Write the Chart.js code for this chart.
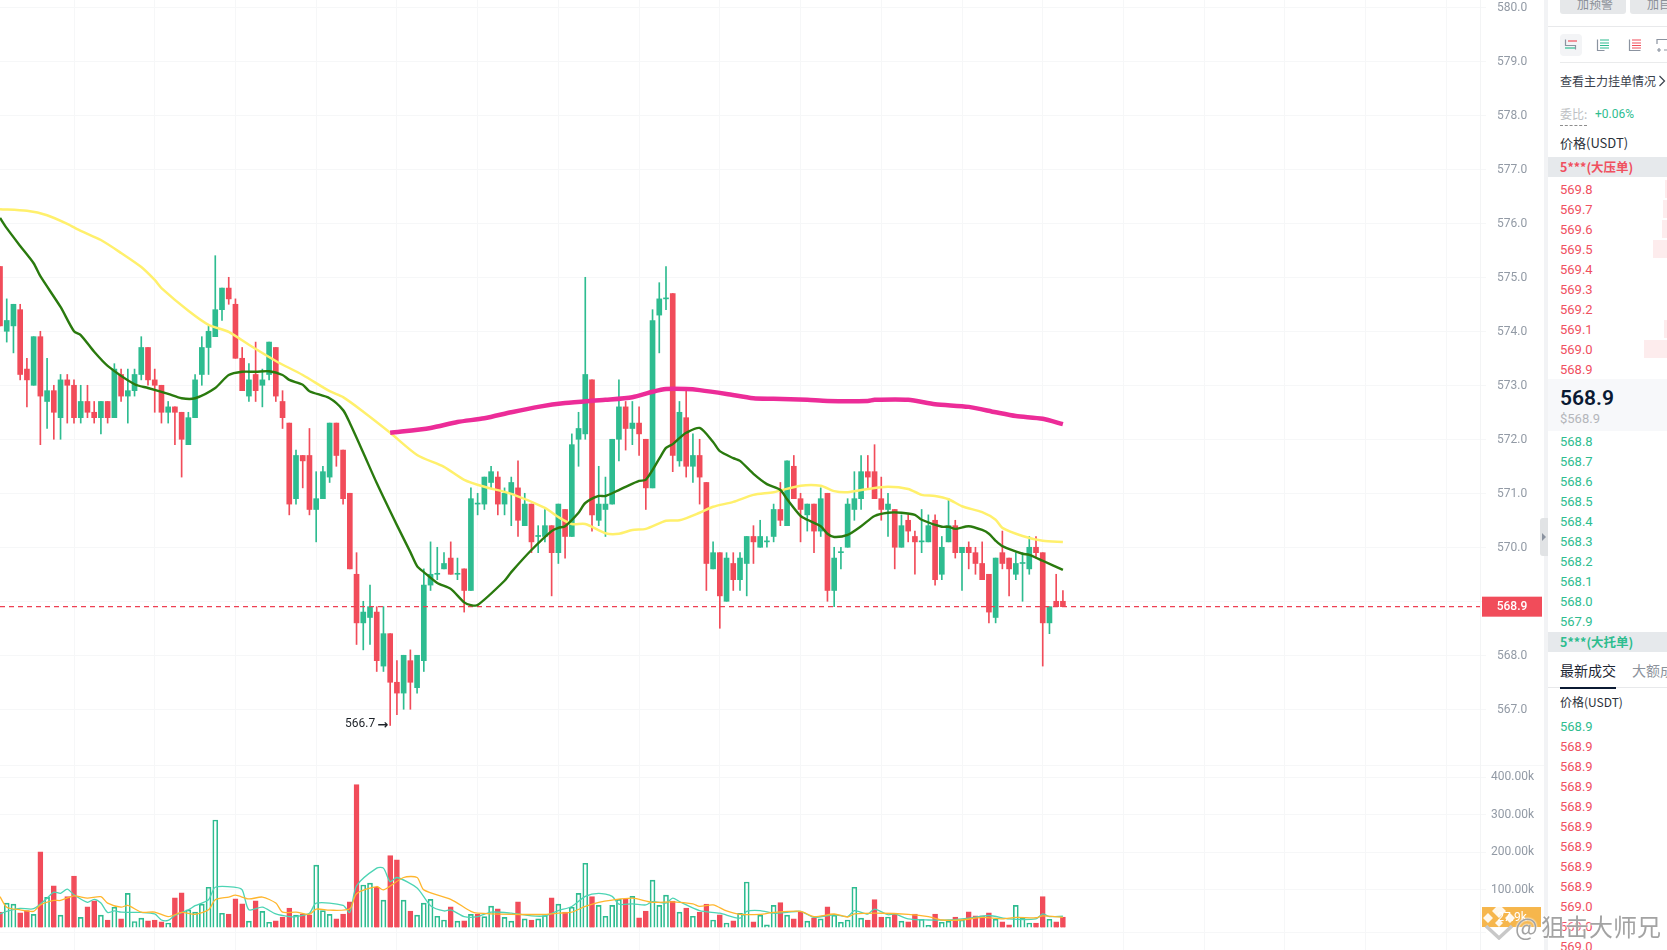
<!DOCTYPE html>
<html lang="zh">
<head>
<meta charset="utf-8">
<title>K线</title>
<script src="https://cdn.jsdelivr.net/npm/chart.js@4/dist/chart.umd.min.js"></script>
<style>
html,body{margin:0;padding:0;background:#fff;overflow:hidden;width:1667px;height:950px;font-family:Roboto,"Noto Sans CJK SC",sans-serif}
#priceBox{position:absolute;left:0;top:0;width:1544px;height:765px}
#volBox{position:absolute;left:0;top:765px;width:1544px;height:185px;box-shadow:inset 0 1px 0 #f6f7f8}
#strip{position:absolute;left:1544px;top:0;width:4px;height:950px;background:#f2f3f5}
#side{position:absolute;left:1548px;top:0;width:119px;height:950px;overflow:hidden;background:#fff}
#side div{position:absolute;white-space:nowrap;line-height:1}
.t{left:12px;font-size:13px;transform:translateY(-50%)}
#handle{position:absolute;left:1540px;top:518px;width:8px;height:38px;background:#e1e3e5;border-radius:3px 0 0 3px}
#handle i{position:absolute;left:2px;top:15px;border-left:4px solid #8b93a0;border-top:4px solid transparent;border-bottom:4px solid transparent}
#mark{position:absolute;left:1483px;top:902px;width:184px;height:48px;pointer-events:none}
#mark span{position:absolute;top:10px;color:#a3a3a3;font-family:"Noto Sans CJK SC";font-size:24px;line-height:28px;text-shadow:0 0 2px #fff,0 0 2px #fff}
</style>
</head>
<body>
<div id="priceBox"><canvas id="priceChart" width="1544" height="765"></canvas></div>
<div id="volBox"><canvas id="volChart" width="1544" height="185"></canvas></div>
<div id="strip"></div>
<div id="side"></div>
<div id="handle"><i></i></div>
<div id="mark">
  <svg width="32" height="38" style="position:absolute;left:0;top:0" viewBox="0 0 32 38">
    <path d="M16 2 L23 9 L16 16 L9 9 Z M5 11 L10 16 L5 21 L0 16 Z M27 11 L32 16 L27 21 L22 16 Z M16 17 L20 21 L16 25 L12 21 Z" fill="#fff" opacity=".9"/>
    <path d="M3 24 L16 36 L29 24" fill="none" stroke="#c8c8c8" stroke-width="3.500"/>
  </svg>
  <span style="left:32px">@</span>
  <span style="left:58px">狙击大师兄</span>
</div>
<script>
// --- K线数据 ---
const opens  = [575.2,574.0,574.1,574.4,573.3,573.0,573.9,572.7,572.9,572.4,573.1,573.0,572.4,572.7,572.5,572.4,572.7,572.4,573.2,572.8,572.9,573.2,573.7,573.1,573.0,572.5,572.6,572.5,571.9,572.4,573.2,573.7,573.9,574.4,574.8,574.5,573.5,572.8,573.2,573.0,573.2,573.7,572.7,572.3,570.9,571.7,571.7,570.7,570.9,571.3,572.3,571.8,571.0,569.5,568.6,568.7,568.8,567.8,568.4,567.5,567.3,567.9,567.4,567.9,569.3,569.5,569.6,569.8,569.5,569.6,569.2,570.8,570.8,571.2,571.3,570.8,571.0,571.1,570.4,570.8,570.2,570.2,570.4,569.9,570.7,570.2,572.0,572.1,573.1,570.5,570.7,570.8,572.0,572.6,572.2,572.3,572.0,571.1,574.3,574.6,574.7,571.6,572.4,571.5,571.7,571.2,569.6,569.9,569.0,569.7,569.4,569.7,570.2,570.0,570.1,570.2,570.7,570.4,571.5,570.9,570.6,570.8,570.3,571.0,569.2,569.9,570.0,570.7,570.9,571.4,571.4,570.9,570.7,570.7,570.0,570.5,570.2,570.1,570.1,570.5,569.5,570.1,570.4,569.9,570.0,569.9,569.7,569.5,568.7,569.9,569.8,569.5,569.7,569.6,570.0,569.9,568.6,569.0,569.0];
const closes = [574.1,574.2,574.5,573.2,573.1,573.9,572.8,572.9,572.5,573.1,573.0,572.4,572.7,572.5,572.4,572.7,572.4,573.3,572.8,572.9,573.2,573.7,573.1,573.0,572.5,572.6,572.5,572.0,572.4,573.1,573.7,574.0,574.4,574.8,574.6,573.5,572.9,573.1,572.9,573.1,573.8,572.8,572.4,570.8,571.7,571.6,570.7,570.9,571.4,572.3,571.7,570.9,569.6,568.6,568.8,568.9,567.9,568.4,567.5,567.3,568.0,567.5,568.0,569.3,569.5,569.5,569.7,569.5,569.5,569.2,570.9,570.8,571.3,571.4,570.8,571.0,571.2,570.5,570.8,570.1,570.2,570.4,569.9,570.8,570.2,571.9,572.2,573.2,570.6,570.8,570.8,572.0,572.6,572.2,572.3,572.1,571.1,574.2,574.6,574.6,571.7,572.5,571.5,571.7,571.3,569.7,569.9,569.1,569.8,569.4,569.8,570.2,570.1,570.2,570.1,570.7,570.5,571.6,570.9,570.7,570.8,570.3,570.9,569.2,569.8,569.9,570.8,570.9,571.4,571.3,570.9,570.7,570.8,570.0,570.4,570.3,570.1,570.1,570.4,569.4,570.0,570.4,569.9,570.0,569.9,569.7,569.4,568.8,569.8,569.7,569.6,569.7,569.7,570.0,569.9,568.6,568.9,568.9,568.9];
const highs  = [575.2,574.6,574.5,574.5,573.5,573.9,574.0,573.5,573.0,573.2,573.2,573.1,573.0,573.0,572.7,572.7,572.7,573.4,573.3,573.3,573.3,573.9,573.7,573.3,573.0,572.7,572.6,572.5,572.5,573.2,573.9,574.1,575.4,574.8,575.0,574.6,573.7,573.4,573.8,573.3,573.8,573.7,572.9,572.3,571.8,571.7,572.2,571.4,571.5,572.3,572.3,571.8,571.0,569.9,569.0,569.3,568.9,568.9,568.4,567.9,568.0,568.1,568.0,569.6,570.1,570.0,569.9,570.1,569.8,569.6,571.1,571.0,571.3,571.5,571.4,571.1,571.3,571.6,571.0,570.8,570.4,570.7,570.4,570.8,570.7,572.1,572.5,575.0,573.1,571.5,571.3,572.0,573.1,572.7,572.7,572.6,572.0,574.4,574.9,575.2,574.7,572.7,572.9,572.1,572.0,571.2,570.1,569.9,569.9,569.9,569.9,570.2,570.4,570.5,570.2,570.8,571.2,571.6,571.7,571.0,570.8,570.8,571.1,571.0,570.0,570.0,570.9,571.4,571.7,571.7,571.9,571.3,571.0,570.7,570.6,570.6,570.3,570.7,570.6,570.6,570.2,570.9,570.5,570.0,570.1,570.0,570.1,569.5,569.8,570.3,569.8,569.9,569.9,570.2,570.2,569.9,568.9,569.5,569.2];
const lows   = [574.1,573.8,573.6,573.1,572.6,573.0,571.9,572.2,572.0,572.0,572.3,572.3,572.3,572.4,572.3,572.1,572.3,572.4,572.7,572.3,572.8,573.1,573.0,572.5,572.3,572.3,571.9,571.3,571.9,572.4,573.0,573.2,573.9,574.2,574.5,573.5,572.9,572.7,572.7,572.6,573.1,572.7,572.2,570.6,570.8,571.1,570.6,570.1,570.9,571.2,571.5,570.8,569.6,568.2,568.1,568.2,567.7,567.7,566.7,566.9,567.0,567.0,567.3,567.7,569.2,569.4,569.6,569.5,569.4,568.8,569.2,570.6,570.7,571.1,570.6,570.6,570.4,570.2,570.4,569.9,569.9,570.1,569.1,569.7,569.8,570.2,571.5,572.0,570.3,570.4,570.2,570.8,571.6,571.8,571.9,571.7,570.7,571.1,573.6,574.4,571.4,571.5,571.3,571.2,570.8,569.2,569.6,568.5,569.0,569.2,569.2,569.1,569.7,570.0,570.0,570.1,570.4,570.4,570.9,570.1,570.3,569.9,570.2,569.0,568.9,569.6,570.0,570.5,570.7,571.1,570.9,570.5,570.2,569.6,570.0,570.1,569.5,569.9,570.1,569.3,569.4,570.1,569.8,569.2,569.6,569.5,569.4,568.6,568.6,569.6,569.1,569.4,569.0,569.5,569.8,567.8,568.4,568.9,568.9];
const volumes = [41,65,62,39,45,35,201,80,111,33,82,137,27,55,71,33,20,54,23,91,16,25,18,20,15,12,79,92,47,41,62,107,286,38,36,76,63,17,71,43,14,18,28,52,33,36,34,166,45,35,23,36,68,380,113,118,107,73,191,180,73,44,33,65,75,30,20,55,17,18,35,36,29,57,50,27,17,68,23,20,23,32,79,62,41,54,91,171,82,59,30,59,75,75,83,26,44,126,59,86,70,41,52,30,41,62,20,34,12,18,38,121,15,33,7,59,66,33,23,41,17,26,23,55,33,14,20,107,25,20,74,28,28,36,17,15,36,22,6,36,14,17,28,20,42,31,31,39,22,15,7,59,25,12,12,82,22,15,28];
const volRedDoji = [71];

// --- 均线 (只读到的点, 其余留空) ---
const yellowIdx = [0,4,7,10,12,15,18,21,23,24,28,31,34,37,41,45,49,51,54,58,62,66,69,72,76,81,83,85,87,90,92,94,96,99,101,104,106,109,112,115,119,122,124,126,129,132,135,137,139,141,143,146,148,149,152,155,158];
const yellowMa  = [576.26,576.23,576.15,575.99,575.86,575.69,575.45,575.19,574.95,574.80,574.38,574.12,573.99,573.75,573.45,573.19,572.89,572.78,572.51,572.12,571.71,571.49,571.25,571.12,570.99,570.73,570.56,570.43,570.43,570.26,570.25,570.32,570.34,570.49,570.50,570.64,570.75,570.84,570.97,571.02,571.14,571.14,571.04,571.02,571.08,571.12,571.08,570.97,570.95,570.89,570.76,570.65,570.51,570.36,570.21,570.12,570.10];
const greenIdx = [0,1,3,5,6,9,11,12,14,16,20,22,25,27,29,32,34,36,38,40,42,43,45,46,49,51,52,54,56,59,61,62,63,65,67,69,70,71,75,76,79,82,83,84,86,87,89,90,92,93,95,96,98,99,100,101,102,104,106,107,109,110,112,114,116,117,119,120,122,123,124,126,128,130,132,134,136,137,140,141,142,144,146,147,148,149,152,153,155,158];
const greenMa  = [576.10,575.91,575.58,575.26,575.02,574.45,574.00,573.93,573.62,573.36,573.02,572.95,572.84,572.76,572.76,572.95,573.19,573.25,573.25,573.26,573.19,573.10,573.01,572.89,572.76,572.54,572.30,571.75,571.19,570.41,569.91,569.65,569.54,569.34,569.23,568.98,568.93,568.93,569.38,569.54,569.95,570.30,570.36,570.39,570.64,570.82,570.95,570.95,571.06,571.12,571.23,571.25,571.64,571.84,571.91,572.02,572.12,572.21,571.95,571.78,571.65,571.60,571.36,571.17,571.06,570.89,570.58,570.51,570.39,570.25,570.19,570.23,570.39,570.58,570.64,570.64,570.60,570.51,570.38,570.38,570.34,570.39,570.32,570.25,570.12,570.02,569.88,569.86,569.75,569.58];
const pinkIdx = [58,64,68,72,76,80,84,90,94,97,99,102,104,108,112,115,120,123,129,130,135,139,144,148,151,155,158];
const pinkMa  = [572.12,572.21,572.32,572.39,572.50,572.60,572.67,572.73,572.78,572.88,572.93,572.93,572.91,572.84,572.76,572.75,572.73,572.71,572.71,572.73,572.73,572.65,572.60,572.50,572.43,572.38,572.28];
const volTealIdx = [0,1,3,5,7,8,9,10,11,13,14,15,16,17,18,21,23,24,25,26,28,29,31,32,35,36,37,39,41,43,44,46,47,51,52,53,56,57,58,59,62,64,66,67,69,71,73,76,79,81,83,85,87,89,91,92,94,96,97,99,100,101,104,107,110,111,113,115,117,119,121,124,126,127,129,130,132,133,135,138,141,144,147,150,154,155,156,158];
const volTeal    = [36,43,51,50,78,94,91,102,87,67,75,65,40,44,41,40,36,20,19,32,47,58,74,107,107,100,47,54,36,29,29,38,65,59,40,111,158,158,122,133,105,58,44,47,29,29,41,38,31,31,45,56,83,91,83,62,63,60,69,65,78,69,45,38,25,43,45,38,40,43,27,34,29,45,36,49,34,36,23,20,20,25,32,23,23,36,29,30];
const volOrangeIdx = [0,1,3,5,6,8,9,11,13,15,16,18,19,21,23,25,27,29,31,32,34,35,37,39,41,42,44,46,47,49,52,53,56,57,60,62,63,67,70,71,76,81,83,85,87,89,91,94,97,100,103,104,106,108,110,113,115,119,121,124,126,127,131,135,138,140,143,146,149,151,154,155,158];
const volOrange    = [82,54,47,43,60,72,72,84,78,82,65,54,59,41,41,29,40,35,47,74,81,86,76,81,65,41,41,35,49,46,50,90,109,100,133,133,100,75,43,38,35,35,38,41,56,67,73,78,67,68,63,56,60,44,35,35,40,43,29,36,28,36,38,35,29,20,20,27,23,27,26,31,27];

// --- 坐标 ---
const slotLabels = Array.from({length:221},(_,i)=>String(i));
const priceTicks = [580,579,578,577,576,575,574,573,572,571,570,569,568,567];
const volTicks = [-12000,100000,200000,300000,400000];
const lastPrice = 568.9;
const lastVolume = 27900;
const lowPrice = 566.7, lowIndex = 58;

const RED='#f14c5a', GREEN='#2ebc90', GRID='#f6f7f8';
const isUp = i => closes[i] >= opens[i];
const candleColors = opens.map((_,i)=>isUp(i)?GREEN:RED);

// 稀疏点 -> 数组, 中间由 spanGaps 连起来
function sparse(idx, vals, k){
    const out = new Array(opens.length).fill(null);
    idx.forEach((n,j)=>{ out[n] = k ? vals[j]*k : vals[j]; });
    return out;
}
const maLine = (data,color,width,order) => ({type:'line',data,borderColor:color,borderWidth:width,pointRadius:0,spanGaps:true,tension:0.25,order});

const xAxis = {
    type:'category',
    offset:false,
    border:{display:false},
    ticks:{display:false,autoSkip:false,maxRotation:0},
    grid:{offset:false,drawTicks:false,color:c=>((c.index-11)%12===0?GRID:'transparent')}
};
// 轴宽固定, 不留标签的上下边距
const fitRight = s => { s.width = 64; s.paddingTop = 0; s.paddingBottom = 0; };

// 现价标签和最低价标注
const pricePlugin = {
    id:'priceTags',
    afterDraw(chart){
        const {ctx,scales} = chart;
        const y = scales.y.getPixelForValue(lastPrice);
        ctx.save();
        ctx.fillStyle = RED;
        ctx.fillRect(1482,y-10,60,20);
        ctx.fillStyle = '#fff';
        ctx.font = '500 12px Roboto';
        ctx.textAlign = 'center';
        ctx.textBaseline = 'middle';
        ctx.fillText(lastPrice.toFixed(1),1512,y+0.5);
        ctx.fillStyle = '#1e2329';
        ctx.font = '12px Roboto';
        ctx.textAlign = 'right';
        ctx.fillText(lowPrice.toFixed(1),scales.x.getPixelForValue(lowIndex)-15,scales.y.getPixelForValue(lowPrice)-1);
        ctx.font = 'bold 13px "DejaVu Sans"';
        ctx.fillText('\u2192',scales.x.getPixelForValue(lowIndex)-2,scales.y.getPixelForValue(lowPrice)-0);
        ctx.restore();
    }
};
const volPlugin = {
    id:'volTag',
    afterDraw(chart){
        const {ctx,scales} = chart;
        const y = scales.y.getPixelForValue(lastVolume);
        ctx.save();
        ctx.fillStyle = '#f6b64c';
        ctx.fillRect(1482,y-10,59,20);
        ctx.fillStyle = '#fff';
        ctx.font = '12px Roboto';
        ctx.textAlign = 'center';
        ctx.textBaseline = 'middle';
        ctx.fillText((lastVolume/1000).toFixed(1)+'k',1512,y+0.5);
        ctx.restore();
    }
};

new Chart(document.getElementById('priceChart').getContext('2d'),{
    data:{
        labels:slotLabels,
        datasets:[
            {type:'bar',data:opens.map((_,i)=>[lows[i],highs[i]]),backgroundColor:candleColors,barThickness:1,grouped:false,order:6},
            {type:'bar',data:opens.map((o,i)=>[Math.min(o,closes[i]),Math.max(o,closes[i])]),backgroundColor:candleColors,barThickness:5,minBarLength:1,grouped:false,order:5},
            {type:'line',data:slotLabels.map(()=>lastPrice),borderColor:'#ee4053',borderWidth:1.2,borderDash:[5,4],pointRadius:0,order:4},
            maLine(sparse(yellowIdx,yellowMa),'#fff06c',2.5,3),
            maLine(sparse(greenIdx,greenMa),'#2a7a0e',2.4,2),
            maLine(sparse(pinkIdx,pinkMa),'#ec2c98',4.5,1)
        ]
    },
    options:{
        responsive:false,
        animation:false,
        events:[],
        layout:{padding:0},
        plugins:{legend:{display:false},tooltip:{enabled:false}},
        scales:{
            x:xAxis,
            y:{
                position:'right',
                min:565.968,
                max:580.135,
                afterFit:fitRight,
                afterBuildTicks:s=>{ s.ticks = priceTicks.map(value=>({value})); },
                border:{color:'#f3f4f5'},
                grid:{color:GRID,tickLength:6},
                ticks:{color:'#929aa5',font:{family:'Roboto',size:12},padding:11,labelOffset:1,crossAlign:'center',callback:v=>v===569?'':v.toFixed(1)}
            }
        }
    },
    plugins:[pricePlugin]
});

new Chart(document.getElementById('volChart').getContext('2d'),{
    data:{
        labels:slotLabels,
        datasets:[
            {
                type:'bar',
                data:volumes.map(v=>v*1000),
                backgroundColor:opens.map((_,i)=>(isUp(i)&&!volRedDoji.includes(i))?'rgba(255,255,255,0)':RED),
                borderColor:opens.map((_,i)=>(isUp(i)&&!volRedDoji.includes(i))?GREEN:RED),
                borderWidth:1,
                barThickness:5,
                order:3
            },
            maLine(sparse(volTealIdx,volTeal,1000),'#4dd4b4',1.3,2),
            maLine(sparse(volOrangeIdx,volOrange,1000),'#ffb62e',1.3,1)
        ]
    },
    options:{
        responsive:false,
        animation:false,
        events:[],
        layout:{padding:0},
        plugins:{legend:{display:false},tooltip:{enabled:false}},
        scales:{
            x:xAxis,
            y:{
                position:'right',
                min:-59800,
                max:432200,
                afterFit:fitRight,
                afterBuildTicks:s=>{ s.ticks = volTicks.map(value=>({value})); },
                border:{color:'#f3f4f5'},
                grid:{color:GRID,tickLength:6},
                ticks:{color:'#929aa5',font:{family:'Roboto',size:12},padding:5,crossAlign:'center',callback:v=>v<=0?'':(v/1000).toFixed(2)+'k'}
            }
        }
    },
    plugins:[volPlugin]
});

// --- 右侧盘口 ---
const askPrices = ['569.8','569.7','569.6','569.5','569.4','569.3','569.2','569.1','569.0','568.9'];
const askBars = [2,4,5,14,0,0,0,3,23,0];
const bidPrices = ['568.8','568.7','568.6','568.5','568.4','568.3','568.2','568.1','568.0','567.9'];
const tradePrices = ['568.9','568.9','568.9','568.9','568.9','568.9','568.9','568.9','568.9','569.0','569.0','569.0'];
const tradeSides = ['green','red','red','red','red','red','red','red','red','red','red','red'];

const side = document.getElementById('side');
function box(x,y,w,h,bg,extra){
    const d = document.createElement('div');
    d.style.cssText = `left:${x}px;top:${y}px;width:${w}px;height:${h}px;background:${bg};${extra||''}`;
    side.appendChild(d);
    return d;
}
function text(str,x,y,size,color,extra){
    const d = document.createElement('div');
    d.textContent = str;
    d.className = 't';
    d.style.cssText = `left:${x}px;top:${y}px;font-size:${size}px;color:${color};${extra||''}`;
    side.appendChild(d);
    return d;
}
const CJK = 'font-family:"Noto Sans CJK SC";';

box(12,-8,66,22,'#e6e8ea','border-radius:3px');
box(82,-8,66,22,'#e6e8ea','border-radius:3px');
text('加预警',29,4,12,'#8a8f97',CJK);
text('加自选',99,4,12,'#8a8f97',CJK);
box(0,26,119,1,'#e8e9eb');
box(12,34,22,22,'#f3f4f6','border-radius:4px');
box(12,62,107,1,'#eaebec');

const icons = document.createElement('div');
icons.style.cssText = 'left:0;top:0;width:119px;height:70px';
icons.innerHTML = `<svg width="119" height="70" style="position:absolute;left:0;top:0">
<g fill="none" stroke-width="1.2">
<path d="M17.500 39.500v6h10v4" stroke="#8b93a0"/>
<path d="M20 41h9" stroke="#f14c5a"/><path d="M17 48h10" stroke="#2ebc90"/>
<path d="M49.500 39.500v11h7" stroke="#8b93a0"/><path d="M52 40h9M52 43h9M52 45.500h9M52 48h9" stroke="#2ebc90"/>
<path d="M81.500 39.500v11h11" stroke="#8b93a0"/><path d="M84 40h9M84 43h9M84 45.500h9M84 48h9" stroke="#f14c5a"/>
<path d="M109 44v-4.500h10M109 50h4M111 48v4M116 50h3" stroke="#8b93a0"/>
<path d="M111.500 77l4 4-4 4" stroke="#3a414c"/>
</g></svg>`;
side.appendChild(icons);

text('查看主力挂单情况',12,81,12,'#3a414c',CJK);
const chevron = document.createElement('div');
chevron.innerHTML = '<svg width="8" height="12" style="display:block"><path d="M1.500 1l5 5-5 5" fill="none" stroke="#3a414c" stroke-width="1.2"/></svg>';
chevron.style.cssText = 'left:110px;top:75px';
side.appendChild(chevron);
text('委比:',12,114,12,'#bdbfc3',CJK);
box(12,125,27,0,'transparent','border-top:1px dashed #8d8d8d');
text('+0.06%',47,114,12,'#2ebd8f');
text('价格(USDT)',12,142,13,'#2b313a',CJK);

box(0,157,119,20,'#e6e9ec');
text('5***(大压单)',12,167,12.500,'#f0505f',CJK+'font-weight:700');
askPrices.forEach((p,i)=>{
    const y = 189+i*20;
    if(askBars[i]) box(119-askBars[i],y-9,askBars[i],18,'#fdeced');
    text(p,12,y,13,'#f0505f');
});
box(0,379,119,52,'#f7f8fa');
text('568.9',12,398,21,'#0b1a33','font-weight:600');
text('$568.9',12,418,13,'#b4b6ba');
bidPrices.forEach((p,i)=>text(p,12,441+i*20,13,'#2ebd8f'));
box(0,632,119,20,'#e6e9ec');
text('5***(大托单)',12,642,12.500,'#2ebd8f',CJK+'font-weight:700');

text('最新成交',12,670,14,'#1e2735',CJK);
text('大额成交',84,670,14,'#8d939c',CJK);
box(0,687,119,1,'#e8e9eb');
box(12,687,56,1.500,'#0b1a33');
text('价格(USDT)',12,702,12,'#2b313a',CJK);
tradePrices.forEach((p,i)=>text(p,12,726+i*20,13,tradeSides[i]==='green'?'#2ebd8f':'#f0505f'));
</script>
</body>
</html>
